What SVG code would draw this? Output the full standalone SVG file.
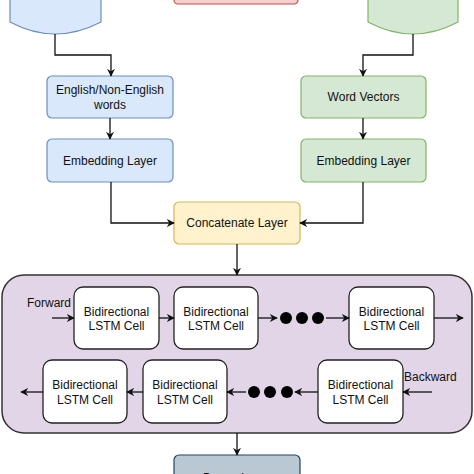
<svg xmlns="http://www.w3.org/2000/svg" width="474" height="474" viewBox="0 0 474 474">
<style>
text{font-family:"Liberation Sans",Arial,sans-serif;font-size:12px;fill:#111;text-anchor:middle}
.c{fill:none;stroke:#111;stroke-width:1.3}
.cell{fill:#fff;stroke:#222;stroke-width:1.3}
.blue{fill:#dae8fc;stroke:#6c8ebf;stroke-width:1.2}
.green{fill:#d5e8d4;stroke:#82b366;stroke-width:1.2}
.dot{fill:#000}
</style>
<defs>
<marker id="a" viewBox="0 0 10 10" refX="9" refY="5" markerWidth="8" markerHeight="8" markerUnits="userSpaceOnUse" orient="auto">
<path d="M0,0 L10,5 L0,10 L3,5 Z" fill="#111"/>
</marker>
</defs>
<g id="lstm-block"><rect x="2" y="275" width="470" height="158" rx="22" fill="#e1d5e7" stroke="#333" stroke-width="1.5"/></g>
<g id="db-left"><path class="blue" d="M10,-20 L10,22 Q55,46 101,22 L101,-20 Z"/></g>
<g id="top-box"><rect x="174" y="-20" width="124" height="24" rx="4" fill="#f8cecc" stroke="#b85450" stroke-width="1.2"/></g>
<g id="db-right"><path class="green" d="M368,-20 L368,22 Q413,46 458,22 L458,-20 Z"/></g>
<g id="words"><rect class="blue" x="47" y="76" width="126" height="42" rx="5"/><text x="110" y="94">English/Non-English</text><text x="110" y="109">words</text></g>
<g id="wordvec"><rect class="green" x="301" y="76" width="125" height="42" rx="5"/><text x="363.5" y="101">Word Vectors</text></g>
<g id="emb-left"><rect class="blue" x="47" y="139" width="126" height="43" rx="5"/><text x="110" y="165">Embedding Layer</text></g>
<g id="emb-right"><rect class="green" x="301" y="139" width="125" height="43" rx="5"/><text x="363.5" y="165">Embedding Layer</text></g>
<g id="concat"><rect x="174" y="202" width="126" height="42" rx="5" fill="#fff2cc" stroke="#d6b656" stroke-width="1.2"/><text x="237" y="227">Concatenate Layer</text></g>
<g id="f1"><rect class="cell" x="74" y="287" width="85" height="62" rx="9"/><text x="116.5" y="316">Bidirectional</text><text x="116.5" y="330">LSTM Cell</text></g>
<g id="f2"><rect class="cell" x="174" y="287" width="84" height="62" rx="9"/><text x="216" y="316">Bidirectional</text><text x="216" y="330">LSTM Cell</text></g>
<g id="f3"><rect class="cell" x="349" y="287" width="85" height="62" rx="9"/><text x="391.5" y="316">Bidirectional</text><text x="391.5" y="330">LSTM Cell</text></g>
<g id="b1"><rect class="cell" x="43" y="360" width="84" height="63" rx="9"/><text x="85" y="389">Bidirectional</text><text x="85" y="404">LSTM Cell</text></g>
<g id="b2"><rect class="cell" x="143" y="360" width="84" height="63" rx="9"/><text x="185" y="389">Bidirectional</text><text x="185" y="404">LSTM Cell</text></g>
<g id="b3"><rect class="cell" x="318" y="360" width="85" height="63" rx="9"/><text x="360.5" y="389">Bidirectional</text><text x="360.5" y="404">LSTM Cell</text></g>
<g id="dots-f"><circle class="dot" cx="286" cy="318" r="6"/><circle class="dot" cx="302" cy="318" r="6"/><circle class="dot" cx="318" cy="318" r="6"/></g>
<g id="dots-b"><circle class="dot" cx="254" cy="392" r="6"/><circle class="dot" cx="270" cy="392" r="6"/><circle class="dot" cx="287" cy="392" r="6"/></g>
<text x="27" y="307" style="text-anchor:start">Forward</text>
<text x="404" y="381" style="text-anchor:start">Backward</text>
<g id="dense"><rect x="174" y="455" width="126" height="42" rx="5" fill="#bac8d3" stroke="#23445d" stroke-width="1.2"/><text x="237" y="482">Dense Layer</text></g>
<g id="connectors">
<path class="c" d="M55,34 V55 H111 V76" marker-end="url(#a)"/>
<path class="c" d="M413,34 V55 H363 V76" marker-end="url(#a)"/>
<path class="c" d="M110,118 V139" marker-end="url(#a)"/>
<path class="c" d="M363,118 V139" marker-end="url(#a)"/>
<path class="c" d="M111,182 V223 H174" marker-end="url(#a)"/>
<path class="c" d="M363,182 V223 H300" marker-end="url(#a)"/>
<path class="c" d="M237,244 V275" marker-end="url(#a)"/>
<path class="c" d="M52,318 H74" marker-end="url(#a)"/>
<path class="c" d="M159,318 H174" marker-end="url(#a)"/>
<path class="c" d="M258,318 H277" marker-end="url(#a)"/>
<path class="c" d="M326,318 H349" marker-end="url(#a)"/>
<path class="c" d="M434,318 H463" marker-end="url(#a)"/>
<path class="c" d="M432,392 H403" marker-end="url(#a)"/>
<path class="c" d="M318,392 H295" marker-end="url(#a)"/>
<path class="c" d="M246,392 H227" marker-end="url(#a)"/>
<path class="c" d="M143,392 H127" marker-end="url(#a)"/>
<path class="c" d="M43,392 H21" marker-end="url(#a)"/>
<path class="c" d="M237,433 V455" marker-end="url(#a)"/>
</g>
</svg>
